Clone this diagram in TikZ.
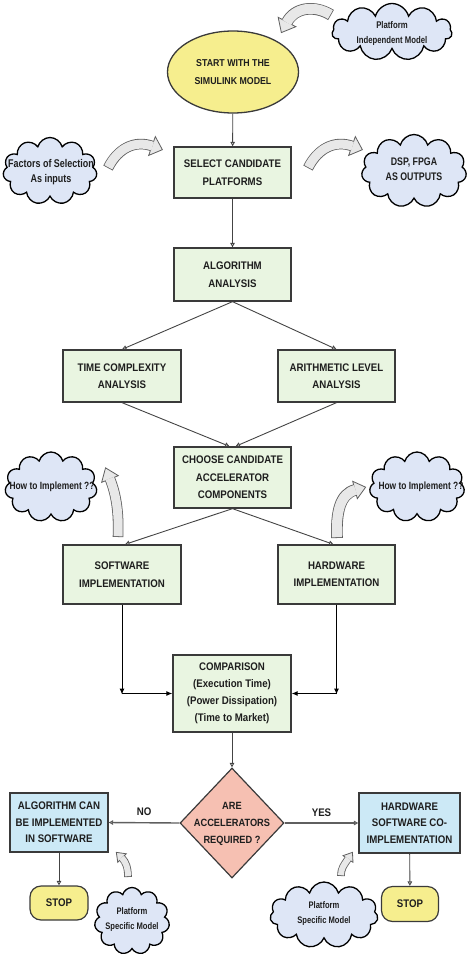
\documentclass[tikz,border=0pt]{standalone}
\usepackage{fontspec}
\setmainfont[FakeStretch=0.88]{Liberation Sans}
\newfontfamily\cloudfont[FakeStretch=0.8]{Liberation Sans}
\usetikzlibrary{shapes.geometric,shapes.symbols,arrows.meta,calc}
\definecolor{boxgreen}{RGB}{233,245,225}
\definecolor{boxline}{RGB}{58,58,58}
\definecolor{yellowfill}{RGB}{246,238,142}
\definecolor{salmon}{RGB}{246,192,178}
\definecolor{bluebox}{RGB}{204,233,246}
\definecolor{cloudfill}{RGB}{222,230,246}
\definecolor{arrfill}{RGB}{232,232,232}
\definecolor{arrline}{RGB}{95,95,95}
\definecolor{flowline}{RGB}{68,68,68}
\definecolor{txt}{RGB}{30,30,30}
\newcommand\blkarrow[7]{%
  \draw[line width=#5+1.6pt, draw=arrline] (#1) .. controls (#2) and (#3) .. (#4);
  \filldraw[fill=arrfill, draw=arrline, line width=0.8pt, line join=miter]
    ($(#4)!#6!90:(#3)$) -- ($(#4)!-#7!(#3)$) -- ($(#4)!#6!-90:(#3)$) -- cycle;
  \draw[line width=#5, draw=arrfill, shorten <=0.8pt, shorten >=-0.6pt] (#1) .. controls (#2) and (#3) .. (#4);
}
\tikzset{
  boxtext/.style={font=\bfseries\fontsize{11}{17.5}\selectfont, text=txt, align=center},
  gbox/.style={rectangle, draw=boxline, line width=1.3pt, fill=boxgreen, inner sep=2pt, boxtext},
  bbox/.style={rectangle, draw=boxline, line width=1.3pt, fill=bluebox, inner sep=2pt, boxtext,
    font=\bfseries\fontsize{11}{16.7}\selectfont},
  stopbox/.style={rectangle, rounded corners=11pt, draw=boxline, line width=1.2pt, fill=yellowfill,
    inner sep=2pt, boxtext, minimum width=58pt, minimum height=34pt},
  cloudbox/.style={cloud, cloud puffs=11, cloud puff arc=150, cloud ignores aspect, draw=black,
    line width=1.3pt, fill=cloudfill, inner sep=0pt},
  cloudtext/.style={font=\cloudfont\bfseries\fontsize{10.5}{15}\selectfont, text=txt, align=center, inner sep=0pt},
  flow/.style={draw=flowline, line width=0.9pt, -{Triangle[open, length=4.5pt, width=4.5pt]}},
  flowfill/.style={draw=black, line width=1pt, -{Latex[length=6pt, width=5pt]}},
  lbl/.style={font=\bfseries\fontsize{11}{13}\selectfont, text=txt, inner sep=0pt}
}
\begin{document}
\begin{tikzpicture}[x=1pt,y=-1pt]
\useasboundingbox (0,0) rectangle (468,958);

% clouds
\node[cloudbox, minimum width=120pt, minimum height=57pt] (pim) at (392,32) {};
\node[cloudtext, font=\cloudfont\bfseries\fontsize{9.7}{15}\selectfont] (pimt) at (392,33) {Platform\\Independent Model};
\node[cloudbox, minimum width=94pt, minimum height=67pt] (fos) at (50,171) {};
\node[cloudtext, font=\cloudfont\bfseries\fontsize{11.2}{15}\selectfont] (fost) at (51,172) {Factors of Selection\\As inputs};
\node[cloudbox, minimum width=105pt, minimum height=73pt] (dsp) at (414,171) {};
\node[cloudtext, font=\cloudfont\bfseries\fontsize{11}{15}\selectfont] (dspt) at (414,169) {DSP, FPGA\\AS OUTPUTS};
\node[cloudbox, minimum width=92pt, minimum height=70pt] (how1) at (51,487) {};
\node[cloudtext] (how1t) at (52,487) {How to Implement ??};
\node[cloudbox, minimum width=95pt, minimum height=70pt] (how2) at (417,487) {};
\node[cloudtext] (how2t) at (421,487) {How to Implement ??};
\node[cloudbox, minimum width=75pt, minimum height=67pt] (psm1) at (132,921) {};
\node[cloudtext, font=\cloudfont\bfseries\fontsize{9.5}{15}\selectfont] (psm1t) at (132,920) {Platform\\Specific Model};
\node[cloudbox, minimum width=108pt, minimum height=66pt] (psm2) at (324,915) {};
\node[cloudtext, font=\cloudfont\bfseries\fontsize{9.5}{15}\selectfont] (psm2t) at (324,914) {Platform\\Specific Model};

% block arrows
\blkarrow{331,15}{315,5}{295,7}{287,22}{10pt}{10pt}{12pt}
\blkarrow{108,168}{118,148}{135,140}{152,146}{9pt}{10pt}{11pt}
\blkarrow{308,168}{318,148}{335,140}{352,146}{9pt}{10pt}{11pt}
\blkarrow{118,537}{119,512}{116,494}{110,479}{9pt}{9pt}{12pt}
\blkarrow{337,538}{336,512}{340,494}{355,490}{10pt}{9pt}{11pt}
\blkarrow{128,877}{128,868}{126,862}{122,858}{6pt}{6pt}{8pt}
\blkarrow{341,876}{341,868}{344,865}{348,859}{6pt}{6pt}{8pt}

% main nodes
\node[ellipse, draw=boxline, line width=1.3pt, fill=yellowfill, minimum width=131pt, minimum height=82pt,
  inner sep=0pt, text=txt, align=center, font=\bfseries\fontsize{10}{18}\selectfont] (start) at (233,72)
  {START WITH THE\\SIMULINK MODEL};
\node[gbox, minimum width=117pt, minimum height=51pt] (sel) at (232.5,172.5) {SELECT CANDIDATE\\PLATFORMS};
\node[gbox, minimum width=117pt, minimum height=53pt] (alg) at (232.5,274.5) {ALGORITHM\\ANALYSIS};
\node[gbox, minimum width=118pt, minimum height=52pt] (tca) at (122,376) {TIME COMPLEXITY\\ANALYSIS};
\node[gbox, minimum width=117pt, minimum height=52pt] (ala) at (336.5,376) {ARITHMETIC LEVEL\\ANALYSIS};
\node[gbox, minimum width=117pt, minimum height=61pt] (cca) at (232.5,477.5) {CHOOSE CANDIDATE\\ACCELERATOR\\COMPONENTS};
\node[gbox, minimum width=118pt, minimum height=59pt] (swi) at (122,574.5) {SOFTWARE\\IMPLEMENTATION};
\node[gbox, minimum width=117pt, minimum height=59pt] (hwi) at (336.5,574.5) {HARDWARE\\IMPLEMENTATION};
\node[gbox, minimum width=118pt, minimum height=77pt, font=\bfseries\fontsize{11}{17}\selectfont] (cmp) at (232,693.5)
  {COMPARISON\\(Execution Time)\\(Power Dissipation)\\(Time to Market)};
\node[diamond, draw=boxline, line width=1.2pt, fill=salmon, minimum width=104pt, minimum height=110pt,
  inner sep=0pt] (dia) at (232,823) {};
\node[boxtext, font=\bfseries\fontsize{10.5}{16.7}\selectfont, inner sep=0pt] (diat) at (232,824)
  {ARE\\ACCELERATORS\\REQUIRED ?};
\node[bbox, minimum width=98pt, minimum height=59pt] (swb) at (59,822.5) {ALGORITHM CAN\\BE IMPLEMENTED\\IN SOFTWARE};
\node[bbox, minimum width=101pt, minimum height=60pt] (hwb) at (409.5,823) {HARDWARE\\SOFTWARE CO-\\IMPLEMENTATION};
\node[stopbox] (stop1) at (59,903) {STOP};
\node[stopbox, minimum width=57pt, minimum height=35pt] (stop2) at (410,904) {STOP};

% connectors
\draw[flow] (start) -- (sel);
\draw[flow] (sel) -- (alg);
\draw[flow] (alg.south) -- (tca.north);
\draw[flow] (alg.south) -- (ala.north);
\draw[flow] (tca.south) -- ([xshift=-3pt]cca.north);
\draw[flow] (ala.south) -- ([xshift=3pt]cca.north);
\draw[flow] (cca.south) -- ([xshift=3pt]swi.north);
\draw[flow] (cca.south) -- ([xshift=-3pt]hwi.north);
\coordinate (swc) at (swi.south |- cmp.west);
\coordinate (hwc) at (hwi.south |- cmp.west);
\draw[flowfill] (swi.south) -- ([yshift=-1pt]swc);
\draw[flowfill] (swc) -- (cmp.west);
\draw[flowfill] (hwi.south) -- ([yshift=-1pt]hwc);
\draw[flowfill] (hwc) -- (cmp.east);
\draw[flow] (cmp) -- (dia);
\draw[flow, draw=arrline, line width=1.4pt] (dia.west) -- node[lbl, above=6pt] (no) {NO} (swb.east);
\draw[flow, draw=arrline, line width=1.4pt] (dia.east) -- node[lbl, above=6pt] (yes) {YES} (hwb.west);
\draw[flow] (swb) -- (stop1);
\draw[flow] (hwb) -- (stop2);
\end{tikzpicture}
\end{document}
